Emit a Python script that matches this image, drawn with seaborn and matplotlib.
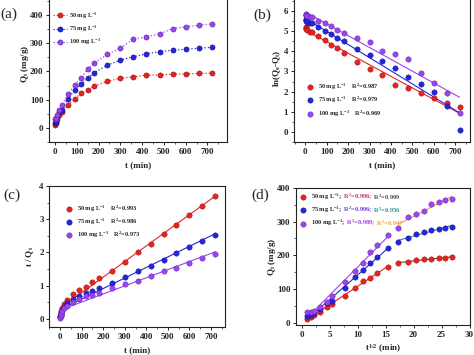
import numpy as np
import pandas as pd
import seaborn as sns
import matplotlib.pyplot as plt
from matplotlib.ticker import AutoMinorLocator, FixedLocator

# ---------------------------------------------------------
# data
# ---------------------------------------------------------
t_min = [1, 3, 5, 10, 20, 30, 60, 90, 120, 150, 180, 240,
         300, 360, 420, 480, 540, 600, 660, 720]
sqrt_t = [1.0, 1.7, 2.2, 3.2, 4.5, 5.5, 7.7, 9.5, 11.0, 12.2, 13.4, 15.5,
          17.3, 19.0, 20.5, 21.9, 23.2, 24.5, 25.7, 26.8]

conc_labels = ["50 mg L$^{-1}$", "75 mg L$^{-1}$", "100 mg L$^{-1}$"]

# (a) / (d)  Qt (mg/g)
qt_50 = [12, 18, 22, 32, 45, 55, 80, 103, 123, 133, 148, 165,
         176, 181, 187, 188, 190, 191, 193, 194]
qt_75 = [19, 23, 28, 40, 58, 65, 104, 135, 155, 176, 196, 222,
         240, 252, 262, 270, 275, 278, 282, 285]
qt_100 = [32, 33, 35, 45, 62, 80, 120, 152, 177, 209, 230, 260,
          282, 314, 322, 333, 351, 358, 363, 368]

# (b)  ln(Qe-Qt)
ln_50 = [5.22, 5.15, 5.1, 5.05, 4.98, 4.95, 4.78, 4.55, 4.32, 4.15, 3.9, 3.47,
         3.1, 2.83, 2.33, 2.17, 1.95, 1.68, 1.45, 1.25]
ln_75 = [5.6, 5.55, 5.5, 5.45, 5.4, 5.38, 5.2, 5.02, 4.87, 4.68, 4.5, 4.13,
         3.82, 3.5, 3.15, 2.75, 2.38, 1.98, 1.28, 0.12]
ln_100 = [5.85, 5.82, 5.8, 5.76, 5.72, 5.68, 5.52, 5.4, 5.25, 5.08, 4.93, 4.68,
          4.48, 4.0, 3.87, 3.6, 2.92, 2.42, 1.95, 0.95]

# (c)  t/Qt
tq_50 = [0.08, 0.17, 0.23, 0.31, 0.44, 0.55, 0.75, 0.87, 0.97, 1.12, 1.22, 1.45,
         1.71, 2.0, 2.25, 2.55, 2.83, 3.12, 3.4, 3.7]
tq_75 = [0.05, 0.12, 0.18, 0.25, 0.34, 0.46, 0.58, 0.67, 0.77, 0.85, 0.92, 1.08,
         1.25, 1.43, 1.6, 1.78, 1.97, 2.16, 2.34, 2.53]
tq_100 = [0.03, 0.09, 0.14, 0.22, 0.32, 0.38, 0.5, 0.59, 0.68, 0.72, 0.78, 0.92,
          1.06, 1.15, 1.3, 1.44, 1.54, 1.68, 1.82, 1.96]

r2_pfo = ["0.987", "0.979", "0.969"]
r2_pso = ["0.993", "0.986", "0.973"]
r2_ipd1 = ["0.996", "0.996", "0.989"]
r2_ipd2 = ["0.909", "0.956", "0.947"]

# tick values
ticks_t = [0, 100, 200, 300, 400, 500, 600, 700]
ticks_q = [0, 100, 200, 300, 400]
ticks_ln = [0, 1, 2, 3, 4, 5, 6]
ticks_tq = [0, 1, 2, 3, 4]
ticks_sqrt = [0, 5, 10, 15, 20, 25, 30]

# first diffusion stage = first 12 points, second stage = the rest
n_stage1 = 12

# ---------------------------------------------------------
# style
# ---------------------------------------------------------
colors = ["#e8231f", "#2424e6", "#9b45f2"]
edge_colors = ["#8a1010", "#10107a", "#5a1f99"]
stage2_colors = ["#5a4848", "#2f8f8f", "#f0a040"]
r2_1_colors = ["#c8306a", "#6a3ce0", "#a040d8"]

sns.set_style("ticks")
plt.rcParams["font.family"] = ["Liberation Serif", "DejaVu Serif"]
plt.rcParams["font.weight"] = "bold"
plt.rcParams["axes.labelweight"] = "bold"
plt.rcParams["mathtext.default"] = "regular"

W, H = 474, 355
fig = plt.figure(figsize=(W / 100, H / 100), dpi=100)


def px_axes(left, top, right, bottom):
    return fig.add_axes([left / W, 1 - bottom / H, (right - left) / W, (bottom - top) / H])


def style_axes(ax, xt, yt):
    ax.xaxis.set_major_locator(FixedLocator(xt))
    ax.yaxis.set_major_locator(FixedLocator(yt))
    ax.xaxis.set_minor_locator(AutoMinorLocator(2))
    ax.yaxis.set_minor_locator(AutoMinorLocator(2))
    ax.tick_params(which="major", direction="out", length=2.5, width=0.7,
                   labelsize=6.5, pad=1.5, color="#222222")
    ax.tick_params(which="minor", direction="out", length=1.4, width=0.5,
                   color="#222222")
    for s in ax.spines.values():
        s.set_linewidth(0.8)
        s.set_color("#222222")
        s.set_visible(True)
    for lab in ax.get_xticklabels() + ax.get_yticklabels():
        lab.set_fontweight("bold")


ax_a = px_axes(49, -13.5, 227, 142.2)
ax_b = px_axes(293.5, -5.2, 470.3, 142.1)
ax_c = px_axes(49.3, 186, 225, 327)
ax_d = px_axes(296, 188, 469.5, 325)

qt_all = [qt_50, qt_75, qt_100]
ln_all = [ln_50, ln_75, ln_100]
tq_all = [tq_50, tq_75, tq_100]

# =========================================================
# (a) Qt vs t
# =========================================================
for q, c, ec, lab in zip(qt_all, colors, edge_colors, conc_labels):
    sns.lineplot(x=t_min, y=q, ax=ax_a, color=c, linestyle=":", lw=0.9,
                 marker="o", markersize=3.7, markeredgecolor=ec,
                 markeredgewidth=0.4, label=lab)
ax_a.set_xlim(-28, 790)
ax_a.set_ylim(-50, 500)
ax_a.set_xlabel("t (min)", fontsize=6.5, labelpad=4)
ax_a.set_ylabel("Q$_t$ (mg/g)", fontsize=6.5, labelpad=-0.5)
style_axes(ax_a, ticks_t, ticks_q)
ax_a.legend(loc="upper left", bbox_to_anchor=(0.02, 0.845), frameon=False,
            fontsize=4.6, handlelength=2.3, handletextpad=0.3,
            labelspacing=0.45, borderaxespad=0, borderpad=0, numpoints=1)

# =========================================================
# (b) pseudo-first-order
# =========================================================
for y, c, ec, lab, r2 in zip(ln_all, colors, edge_colors, conc_labels, r2_pfo):
    sns.regplot(x=t_min, y=y, ax=ax_b, scatter=False, ci=None, color=c,
                line_kws=dict(lw=0.8))
    sns.scatterplot(x=t_min, y=y, ax=ax_b, color=c, s=15, edgecolor=ec,
                    linewidth=0.3, label=f"{lab}    R$^2$={r2}", zorder=3)
ax_b.set_xlim(-55, 770)
ax_b.set_ylim(-0.5, 6.8)
ax_b.set_xlabel("t (min)", fontsize=6.5, labelpad=4)
ax_b.set_ylabel("ln(Q$_e$-Q$_t$)", fontsize=6.5, labelpad=0.5)
style_axes(ax_b, ticks_t, ticks_ln)
ax_b.legend(loc="lower left", bbox_to_anchor=(0.075, 0.16), frameon=False,
            fontsize=4.6, handlelength=1.0, handletextpad=0.7,
            labelspacing=0.45, borderaxespad=0, borderpad=0)

# =========================================================
# (c) pseudo-second-order
# =========================================================
for y, c, ec, lab, r2 in zip(tq_all, colors, edge_colors, conc_labels, r2_pso):
    sns.regplot(x=t_min, y=y, ax=ax_c, scatter=False, ci=None, color=c,
                line_kws=dict(lw=0.8))
    sns.scatterplot(x=t_min, y=y, ax=ax_c, color=c, s=15, edgecolor=ec,
                    linewidth=0.3, label=f"{lab}    R$^2$={r2}", zorder=3)
ax_c.set_xlim(-50, 765)
ax_c.set_ylim(-0.25, 4.0)
ax_c.set_xlabel("t (min)", fontsize=6.5, labelpad=4)
ax_c.set_ylabel("t / Q$_t$", fontsize=6.5, labelpad=2.5)
style_axes(ax_c, ticks_t, ticks_tq)
ax_c.legend(loc="upper left", bbox_to_anchor=(0.094, 0.876), frameon=False,
            fontsize=4.6, handlelength=1.0, handletextpad=0.7,
            labelspacing=0.45, borderaxespad=0, borderpad=0)

# =========================================================
# (d) intra-particle diffusion
# =========================================================
for q, c, ec, c2, lab in zip(qt_all, colors, edge_colors, stage2_colors, conc_labels):
    sns.regplot(x=sqrt_t[:n_stage1], y=q[:n_stage1], ax=ax_d, scatter=False,
                ci=None, color=c, line_kws=dict(lw=0.8))
    sns.regplot(x=sqrt_t[n_stage1:], y=q[n_stage1:], ax=ax_d, scatter=False,
                ci=None, color=c2, line_kws=dict(lw=0.8))
    sns.scatterplot(x=sqrt_t, y=q, ax=ax_d, color=c, s=15, edgecolor=ec,
                    linewidth=0.3, label=f"{lab};", zorder=3)
ax_d.set_xlim(-1, 30)
ax_d.set_ylim(-7, 400)
ax_d.set_xlabel("t$^{1/2}$ (min)", fontsize=6.5, labelpad=3)
ax_d.set_ylabel("Q$_t$ (mg/g)", fontsize=6.5, labelpad=-0.5)
style_axes(ax_d, ticks_sqrt, ticks_q)
leg_d = ax_d.legend(loc="upper left", bbox_to_anchor=(0.022, 0.972), frameon=False,
                    fontsize=4.6, handlelength=1.0, handletextpad=0.7,
                    labelspacing=0.45, borderaxespad=0, borderpad=0)
for i, txt in enumerate(leg_d.get_texts()):
    a1 = ax_d.annotate(f" R$^2$={r2_ipd1[i]};", xy=(1, 0), xycoords=txt,
                       ha="left", va="bottom", fontsize=4.6, fontweight="bold",
                       color=r2_1_colors[i], zorder=6)
    ax_d.annotate(f" R$^2$={r2_ipd2[i]}", xy=(1, 0), xycoords=a1,
                  ha="left", va="bottom", fontsize=4.6, fontweight="bold",
                  color=stage2_colors[i], zorder=7)

# panel letters
for s, x, y in [("(a)", 9, 14), ("(b)", 262.5, 15), ("(c)", 12, 195), ("(d)", 260, 195)]:
    fig.text(x / W, 1 - y / H, s, ha="center", va="center", fontsize=11,
             fontweight="normal", family=["Liberation Serif"])

fig.canvas.draw()
fig.savefig("out.png", dpi=100)
